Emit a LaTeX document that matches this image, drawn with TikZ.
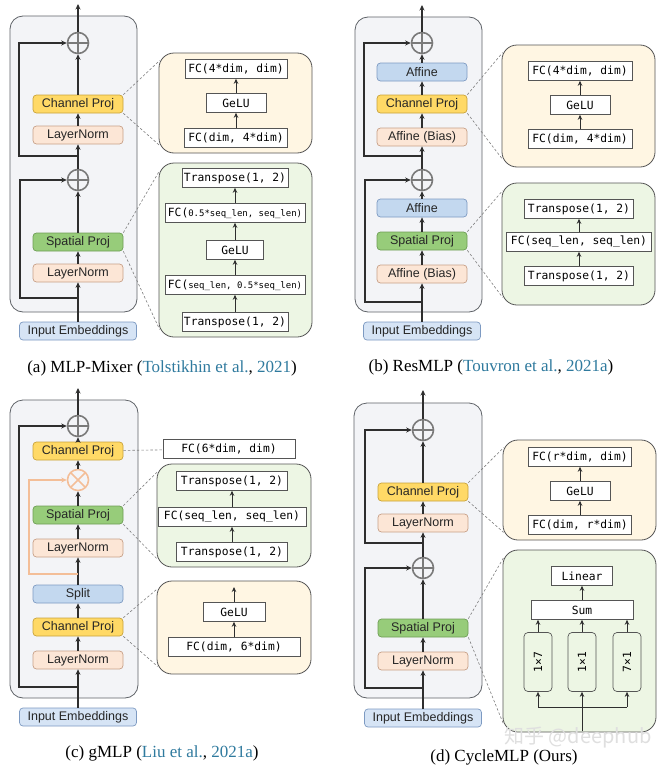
\documentclass[tikz,border=0pt]{standalone}
\usepackage{fontspec}
\setmainfont{Liberation Serif}
\newfontfamily\lsans{Liberation Sans}
\newfontfamily\dmono{DejaVu Sans Mono}
\newfontfamily\cjkf{Noto Sans CJK SC}
\usetikzlibrary{arrows.meta}
\definecolor{panelfill}{HTML}{F3F4F7}
\definecolor{paneldraw}{HTML}{5F6368}
\definecolor{cpfill}{HTML}{FFD966}
\definecolor{cpdraw}{HTML}{C9A33A}
\definecolor{lnfill}{HTML}{FCE6D6}
\definecolor{lndraw}{HTML}{C7A087}
\definecolor{spfill}{HTML}{97CC7A}
\definecolor{spdraw}{HTML}{6E9E55}
\definecolor{affill}{HTML}{C3D8EF}
\definecolor{afdraw}{HTML}{7D9AC2}
\definecolor{infill}{HTML}{D6E4F5}
\definecolor{ybfill}{HTML}{FFF6E3}
\definecolor{gbfill}{HTML}{EDF6E4}
\definecolor{boxdraw}{HTML}{555555}
\definecolor{linec}{HTML}{2E2E2E}
\definecolor{opc}{HTML}{7A7A7A}
\definecolor{orc}{HTML}{F3BE98}
\definecolor{citec}{HTML}{2F7A9E}
\tikzset{
 panel/.style={draw=paneldraw, fill=panelfill, line width=0.8pt, rounded corners=13pt, inner sep=0pt},
 blk/.style={draw, line width=0.7pt, rounded corners=3.5pt, minimum width=90pt, minimum height=18pt, inner sep=0pt, font=\lsans\fontsize{12.5}{14}\selectfont, text=black!85},
 cpb/.style={blk, fill=cpfill, draw=cpdraw},
 lnb/.style={blk, fill=lnfill, draw=lndraw},
 spb/.style={blk, fill=spfill, draw=spdraw},
 afb/.style={blk, fill=affill, draw=afdraw},
 inb/.style={blk, fill=infill, draw=afdraw, minimum width=117pt},
 rbox/.style={draw=boxdraw, line width=0.8pt, rounded corners=15pt, inner sep=0pt},
 ybox/.style={rbox, fill=ybfill},
 gbox/.style={rbox, fill=gbfill},
 code/.style={draw=boxdraw, fill=white, line width=0.6pt, minimum height=19pt, inner xsep=2pt, inner ysep=0pt, font=\dmono\fontsize{11.3}{13}\selectfont},
 kbox/.style={draw=boxdraw, fill=gbfill, line width=0.7pt, rounded corners=4pt, minimum width=59pt, minimum height=28pt, inner sep=0pt, rotate=90, font=\dmono\fontsize{11.3}{13}\selectfont},
 arr/.style={draw=linec, line width=1.3pt, -{Stealth[length=5.5pt,width=5pt]}},
 arrs/.style={draw=linec, line width=1pt, -{Stealth[length=5pt,width=4.5pt]}},
 plain/.style={draw=linec, line width=1pt},
 dsh/.style={draw=gray, line width=0.6pt, dash pattern=on 2.5pt off 2pt},
 opl/.style={circle, draw=opc, line width=1.6pt, minimum size=21pt, inner sep=0pt, path picture={\draw[opc, line width=1.6pt] (path picture bounding box.north) -- (path picture bounding box.south) (path picture bounding box.west) -- (path picture bounding box.east);}},
 otm/.style={circle, draw=orc, line width=1.6pt, minimum size=21pt, inner sep=0pt, path picture={\draw[orc, line width=1.6pt] (path picture bounding box.north west) -- (path picture bounding box.south east) (path picture bounding box.north east) -- (path picture bounding box.south west);}},
 captxt/.style={font=\fontsize{17}{20}\selectfont, inner sep=0pt},
}
\begin{document}
\begin{tikzpicture}[x=1pt,y=-1pt]
\fill[white] (0,0) rectangle (670,771);
\useasboundingbox (0,0) rectangle (670,771);

% ================= (a) MLP-Mixer =================
\node[panel, minimum width=127pt, minimum height=296pt] (a_pan) at (73.5,164) {};
\node[opl] (a_op1) at (78,43) {};
\coordinate (a_top) at (78,4);
\node[cpb] (a_cp) at (78,104) {Channel Proj};
\node[lnb] (a_ln1) at (78,135) {LayerNorm};
\coordinate (a_s1) at (78,156);
\coordinate (a_k1) at (19,156);
\node[opl] (a_op2) at (78,180) {};
\node[spb] (a_sp) at (78,242) {Spatial Proj};
\node[lnb] (a_ln2) at (78,273) {LayerNorm};
\coordinate (a_s2) at (78,298);
\coordinate (a_k2) at (20,298);
\node[inb] (a_in) at (78,331) {Input Embeddings};
\draw[arr] (a_op1) -- (a_top);
\draw[arr] (a_cp) -- (a_op1);
\draw[arr] (a_ln1) -- (a_cp);
\draw[arr] (a_op2) -- (a_ln1);
\draw[arr] (a_s1) -- (a_k1) |- (a_op1);
\draw[arr] (a_sp) -- (a_op2);
\draw[arr] (a_ln2) -- (a_sp);
\draw[arr] (a_in) -- (a_ln2);
\draw[arr] (a_s2) -- (a_k2) |- (a_op2);

\node[ybox, minimum width=153pt, minimum height=100pt] (ya) at (235.5,103) {};
\node[code, minimum width=102pt] (a_f1) at (236,69) {FC(4*dim, dim)};
\node[code, minimum width=60pt] (a_ge) at (236,103) {GeLU};
\node[code, minimum width=103pt] (a_f2) at (236,138) {FC(dim, 4*dim)};
\draw[arrs] (a_f2) -- (a_ge);
\draw[arrs] (a_ge) -- (a_f1);
\draw[dsh] (a_cp.north east) -- ([shift={(1,8)}]ya.north west);
\draw[dsh] (a_cp.south east) -- ([shift={(1,-8)}]ya.south west);

\node[gbox, minimum width=153pt, minimum height=174pt] (ga) at (235.5,250) {};
\node[code, minimum width=105pt] (a_t1) at (235,178) {Transpose(1, 2)};
\node[code, minimum width=140pt] (a_f3) at (235,213) {FC(\fontsize{9}{11}\selectfont 0.5*seq\_len, seq\_len)};
\node[code, minimum width=57pt] (a_ge2) at (235,250) {GeLU};
\node[code, minimum width=140pt] (a_f4) at (235,285) {FC(\fontsize{9}{11}\selectfont seq\_len, 0.5*seq\_len)};
\node[code, minimum width=106pt] (a_t2) at (235,322) {Transpose(1, 2)};
\draw[arrs] (a_t2) -- (a_f4);
\draw[arrs] (a_f4) -- (a_ge2);
\draw[arrs] (a_ge2) -- (a_f3);
\draw[arrs] (a_f3) -- (a_t1);
\draw[dsh] (a_sp.north east) -- ([shift={(1,8)}]ga.north west);
\draw[dsh] (a_sp.south east) -- ([shift={(1,-8)}]ga.south west);

\node[captxt] (a_cap) at (162,368) {(a) MLP-Mixer (\textcolor{citec}{Tolstikhin et al.}, \textcolor{citec}{2021})};

% ================= (b) ResMLP =================
\node[panel, minimum width=127pt, minimum height=295pt] (b_pan) at (418.5,164.5) {};
\coordinate (b_top) at (422,5);
\node[opl] (b_op1) at (422,43) {};
\node[afb] (b_af1) at (422,72) {Affine};
\node[cpb] (b_cp) at (422,104) {Channel Proj};
\node[lnb] (b_ab1) at (422,137) {Affine (Bias)};
\coordinate (b_s1) at (422,156);
\coordinate (b_k1) at (364,156);
\node[opl] (b_op2) at (422,180) {};
\node[afb] (b_af2) at (422,208) {Affine};
\node[spb] (b_sp) at (422,241) {Spatial Proj};
\node[lnb] (b_ab2) at (422,274) {Affine (Bias)};
\coordinate (b_s2) at (422,302);
\coordinate (b_k2) at (365,302);
\node[inb] (b_in) at (422,331) {Input Embeddings};
\draw[arr] (b_op1) -- (b_top);
\draw[arr] (b_af1) -- (b_op1);
\draw[arr] (b_cp) -- (b_af1);
\draw[arr] (b_ab1) -- (b_cp);
\draw[arr] (b_op2) -- (b_ab1);
\draw[arr] (b_s1) -- (b_k1) |- (b_op1);
\draw[arr] (b_af2) -- (b_op2);
\draw[arr] (b_sp) -- (b_af2);
\draw[arr] (b_ab2) -- (b_sp);
\draw[arr] (b_in) -- (b_ab2);
\draw[arr] (b_s2) -- (b_k2) |- (b_op2);

\node[ybox, minimum width=153pt, minimum height=122pt] (yb) at (578.5,106) {};
\node[code, minimum width=104pt] (b_f1) at (580,71) {FC(4*dim, dim)};
\node[code, minimum width=60pt] (b_ge) at (580,105) {GeLU};
\node[code, minimum width=104pt] (b_f2) at (580,139) {FC(dim, 4*dim)};
\draw[arrs] (b_f2) -- (b_ge);
\draw[arrs] (b_ge) -- (b_f1);
\draw[dsh] (b_cp.north east) -- ([shift={(1,8)}]yb.north west);
\draw[dsh] (b_cp.south east) -- ([shift={(1,-8)}]yb.south west);

\node[gbox, minimum width=153pt, minimum height=122pt] (gb) at (578.5,244) {};
\node[code, minimum width=109pt] (b_t1) at (579,209) {Transpose(1, 2)};
\node[code, minimum width=145pt] (b_f3) at (579,242) {FC(seq\_len, seq\_len)};
\node[code, minimum width=109pt] (b_t2) at (579,276) {Transpose(1, 2)};
\draw[arrs] (b_t2) -- (b_f3);
\draw[arrs] (b_f3) -- (b_t1);
\draw[dsh] (b_sp.north east) -- ([shift={(1,8)}]gb.north west);
\draw[dsh] (b_sp.south east) -- ([shift={(1,-8)}]gb.south west);

\node[captxt] (b_cap) at (491,367) {(b) ResMLP (\textcolor{citec}{Touvron et al.}, \textcolor{citec}{2021a})};

% ================= (c) gMLP =================
\node[panel, minimum width=128pt, minimum height=298pt] (c_pan) at (74,549) {};
\coordinate (c_top) at (78,388);
\node[opl] (c_op1) at (78,426) {};
\node[cpb] (c_cp1) at (78,451) {Channel Proj};
\node[otm] (c_ot) at (78,480) {};
\node[spb] (c_sp) at (78,515) {Spatial Proj};
\node[lnb] (c_ln1) at (78,548) {LayerNorm};
\coordinate (c_g) at (78,574);
\coordinate (c_gk) at (29,574);
\node[afb] (c_split) at (78,594) {Split};
\node[cpb] (c_cp2) at (78,627) {Channel Proj};
\node[lnb] (c_ln2) at (78,660) {LayerNorm};
\coordinate (c_s) at (78,687);
\coordinate (c_k) at (19,687);
\node[inb] (c_in) at (78,717) {Input Embeddings};
\draw[arr] (c_op1) -- (c_top);
\draw[arr] (c_cp1) -- (c_op1);
\draw[arr] (c_ot) -- (c_cp1);
\draw[arr] (c_sp) -- (c_ot);
\draw[arr] (c_ln1) -- (c_sp);
\draw[arr] (c_split) -- (c_ln1);
\draw[orc, line width=1.2pt, -{Stealth[length=5.5pt,width=5pt]}] (c_g) -- (c_gk) |- (c_ot);
\draw[arr] (c_cp2) -- (c_split);
\draw[arr] (c_ln2) -- (c_cp2);
\draw[arr] (c_in) -- (c_ln2);
\draw[arr] (c_s) -- (c_k) |- (c_op1);

\node[code, minimum width=132pt] (c_fc) at (229,449) {FC(6*dim, dim)};
\draw[dsh] (c_cp1) -- (c_fc);

\node[gbox, minimum width=154pt, minimum height=103pt] (gc) at (234,515.5) {};
\node[code, minimum width=111pt] (c_t1) at (232,481) {Transpose(1, 2)};
\node[code, minimum width=148pt] (c_f3) at (232,517) {FC(seq\_len, seq\_len)};
\node[code, minimum width=111pt] (c_t2) at (232,552) {Transpose(1, 2)};
\draw[arrs] (c_t2) -- (c_f3);
\draw[arrs] (c_f3) -- (c_t1);
\draw[dsh] (c_sp.north east) -- ([shift={(1,8)}]gc.north west);
\draw[dsh] (c_sp.south east) -- ([shift={(1,-8)}]gc.south west);

\node[ybox, minimum width=154pt, minimum height=93pt] (yc) at (234,627.5) {};
\coordinate (c_ytop) at (234,587);
\node[code, minimum width=62pt] (c_ge) at (234,612) {GeLU};
\node[code, minimum width=132pt] (c_f2) at (234,647) {FC(dim, 6*dim)};
\draw[arrs] (c_f2) -- (c_ge);
\draw[arrs] (c_ge) -- (c_ytop);
\draw[dsh] (c_cp2.north east) -- ([shift={(1,8)}]yc.north west);
\draw[dsh] (c_cp2.south east) -- ([shift={(1,-8)}]yc.south west);

\node[captxt] (c_cap) at (162,753) {(c) gMLP (\textcolor{citec}{Liu et al.}, \textcolor{citec}{2021a})};

% ================= (d) CycleMLP =================
\node[panel, minimum width=128pt, minimum height=295pt] (d_pan) at (418,550.5) {};
\coordinate (d_top) at (423,390);
\node[opl] (d_op1) at (423,430) {};
\node[cpb] (d_cp) at (423,492) {Channel Proj};
\node[lnb] (d_ln1) at (423,523) {LayerNorm};
\coordinate (d_s1) at (423,543);
\coordinate (d_k1) at (365,543);
\node[opl] (d_op2) at (423,568) {};
\node[spb] (d_sp) at (423,628) {Spatial Proj};
\node[lnb] (d_ln2) at (423,661) {LayerNorm};
\coordinate (d_s2) at (423,688);
\coordinate (d_k2) at (365,688);
\node[inb] (d_in) at (423,718) {Input Embeddings};
\draw[arr] (d_op1) -- (d_top);
\draw[arr] (d_cp) -- (d_op1);
\draw[arr] (d_ln1) -- (d_cp);
\draw[arr] (d_op2) -- (d_ln1);
\draw[arr] (d_s1) -- (d_k1) |- (d_op1);
\draw[arr] (d_sp) -- (d_op2);
\draw[arr] (d_ln2) -- (d_sp);
\draw[arr] (d_in) -- (d_ln2);
\draw[arr] (d_s2) -- (d_k2) |- (d_op2);

\node[ybox, minimum width=153pt, minimum height=100pt] (yd) at (579.5,490) {};
\node[code, minimum width=103pt] (d_f1) at (580,457) {FC(r*dim, dim)};
\node[code, minimum width=60pt] (d_ge) at (580,491) {GeLU};
\node[code, minimum width=103pt] (d_f2) at (580,525) {FC(dim, r*dim)};
\draw[arrs] (d_f2) -- (d_ge);
\draw[arrs] (d_ge) -- (d_f1);
\draw[dsh] (d_cp.north east) -- ([shift={(1,8)}]yd.north west);
\draw[dsh] (d_cp.south east) -- ([shift={(1,-8)}]yd.south west);

\node[gbox, minimum width=153pt, minimum height=182pt] (gd) at (579.5,641) {};
\node[code, minimum width=61pt] (d_lin) at (582,576) {Linear};
\node[code, minimum width=102pt] (d_sum) at (582,610) {Sum};
\node[kbox] (d_k17) at (538,662) {1×7};
\node[kbox] (d_k11) at (582,662) {1×1};
\node[kbox] (d_k71) at (627,662) {7×1};
\coordinate (d_b0) at (582,731);
\coordinate (d_bl) at (538,707);
\coordinate (d_br) at (627,707);
\draw[plain] (d_bl) -- (d_br);
\draw[arrs] (d_b0) -- (d_k11);
\draw[arrs] (d_bl) -- (d_k17);
\draw[arrs] (d_br) -- (d_k71);
\draw[arrs] (d_k17) -- (d_k17 |- d_sum.south);
\draw[arrs] (d_k11) -- (d_sum);
\draw[arrs] (d_k71) -- (d_k71 |- d_sum.south);
\draw[arrs] (d_sum) -- (d_lin);
\draw[dsh] (d_sp.north east) -- ([shift={(1,8)}]gd.north west);
\draw[dsh] (d_sp.south east) -- ([shift={(1,-8)}]gd.south west);

\node[text=gray!25, font=\cjkf\fontsize{20}{24}\selectfont, inner sep=0pt] (wm) at (578,737) {知乎 @deephub};
\node[captxt] (d_cap) at (504,757) {(d) CycleMLP (Ours)};
\end{tikzpicture}
\end{document}
